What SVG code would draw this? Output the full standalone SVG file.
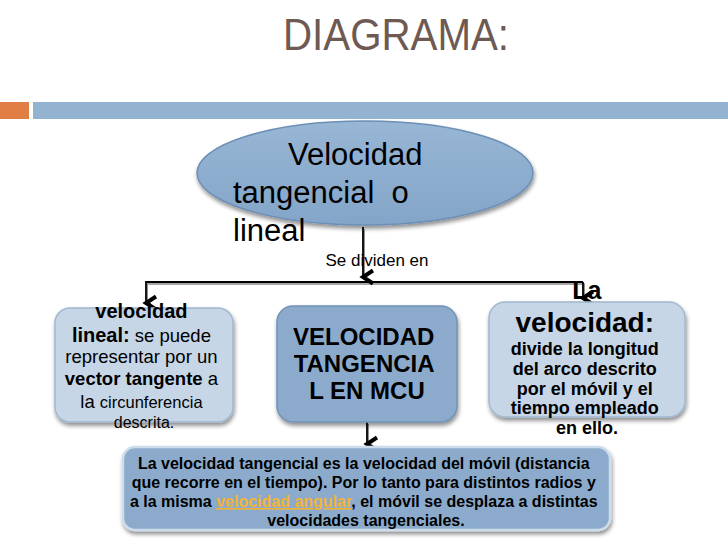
<svg xmlns="http://www.w3.org/2000/svg" width="728" height="546" viewBox="0 0 728 546">
<defs>
<style>
text{font-family:"Liberation Sans",Arial,sans-serif;fill:#000}
.b{font-weight:bold}
.c{text-anchor:middle}
.light{fill:#c6d6e6;stroke:#a1b8cf;stroke-width:1.5}
.dark{fill:#8cabcc;stroke:#6f92b8;stroke-width:1.5}
.con{fill:none;stroke:#000;stroke-width:1.8}
.conS{fill:none;stroke:#8a8a8a;stroke-width:1.5}
</style>
<filter id="sh" x="-10%" y="-10%" width="125%" height="130%">
<feGaussianBlur in="SourceAlpha" stdDeviation="2"/>
<feOffset dx="1" dy="3" result="o"/>
<feComponentTransfer><feFuncA type="linear" slope="0.45"/></feComponentTransfer>
<feMerge><feMergeNode/><feMergeNode in="SourceGraphic"/></feMerge>
</filter>
<linearGradient id="eg" x1="0" y1="0" x2="0" y2="1">
<stop offset="0" stop-color="#98b6d5"/>
<stop offset="1" stop-color="#83a5c8"/>
</linearGradient>
<marker id="ah" viewBox="0 0 18 15" refX="9" refY="12" markerWidth="18" markerHeight="15" markerUnits="userSpaceOnUse" orient="auto" overflow="visible">
<path d="M2.5,2 L9,12 L15.5,2" fill="none" stroke="#000" stroke-width="4"/>
</marker>
</defs>
<rect width="728" height="546" fill="#fff"/>
<text x="283" y="50" font-size="44" textLength="226" lengthAdjust="spacingAndGlyphs" style="fill:#6e5a52">DIAGRAMA:</text>
<rect x="0" y="102" width="29" height="17" fill="#e07e45"/>
<rect x="33" y="102" width="695" height="17" fill="#93b3d1"/>

<g id="n-main">
<ellipse cx="365" cy="173" rx="168" ry="52" fill="url(#eg)" stroke="#6c8fb5" stroke-width="1.5" filter="url(#sh)"/>
<text font-size="31" style="white-space:pre"><tspan x="288" y="165">Velocidad</tspan><tspan x="233" y="203">tangencial  o</tspan><tspan x="233" y="241">lineal</tspan></text>
</g>

<g id="connectors">
<g transform="translate(1.2,2)">
<path class="conS" d="M363,227 V275"/>
<path class="conS" d="M146,300 V282 H583 V296"/>
<path class="conS" d="M367,422 V442"/>
</g>
<path class="con" d="M363,227 V277" marker-end="url(#ah)"/>
<path class="con" d="M583,282 H146 V303" marker-end="url(#ah)"/>
<path class="con" d="M583,282 V298" marker-end="url(#ah)"/>
<path class="con" d="M367,422 V444" marker-end="url(#ah)"/>
<text x="377" y="266" class="c" font-size="17">Se dividen en</text>
</g>

<g id="n-left">
<rect class="light" x="55" y="308" width="178" height="114" rx="15" filter="url(#sh)"/>
<text class="c" font-size="18.5">
<tspan x="144" y="318" class="b" font-size="20">velocidad</tspan>
<tspan x="144" y="342"><tspan class="b" font-size="20">lineal:</tspan> se puede</tspan>
<tspan x="144" y="363">representar por un</tspan>
<tspan x="144" y="385"><tspan class="b">vector tangente</tspan> a</tspan>
<tspan x="144" y="408">la <tspan font-size="16.5">circunferencia</tspan></tspan>
<tspan x="144" y="428" font-size="16">descrita.</tspan>
</text>
</g>

<g id="n-mid">
<rect class="dark" x="277" y="306" width="180" height="116" rx="16" filter="url(#sh)"/>
<text class="c b" font-size="24">
<tspan x="367" y="345">VELOCIDAD</tspan>
<tspan x="367" y="372">TANGENCIA</tspan>
<tspan x="367" y="399">L EN MCU</tspan>
</text>
</g>

<g id="n-right">
<rect class="light" x="489" y="302" width="196" height="115" rx="16" filter="url(#sh)"/>
<text class="c b">
<tspan x="589" y="299" font-size="25">La</tspan>
<tspan x="587" y="332" font-size="28">velocidad:</tspan>
<tspan x="587" y="355" font-size="18">divide la longitud</tspan>
<tspan x="587" y="375" font-size="18">del arco descrito</tspan>
<tspan x="587" y="395" font-size="18">por el móvil y el</tspan>
<tspan x="587" y="414" font-size="18">tiempo empleado</tspan>
<tspan x="587" y="434" font-size="18">en ello.</tspan>
</text>
</g>

<g id="n-bottom">
<rect x="123" y="447" width="487" height="83" rx="12" fill="#8cabcc" stroke="#cddcea" stroke-width="2.5" filter="url(#sh)"/>
<text class="c b" font-size="16">
<tspan x="366" y="469">La velocidad tangencial es la velocidad del móvil (distancia</tspan>
<tspan x="366" y="488">que recorre en el tiempo). Por lo tanto para distintos radios y</tspan>
<tspan x="366" y="507">a la misma <tspan style="fill:#f2b436" text-decoration="underline">velocidad angular</tspan>, el móvil se desplaza a distintas</tspan>
<tspan x="366" y="526">velocidades tangenciales.</tspan>
</text>
</g>
</svg>
